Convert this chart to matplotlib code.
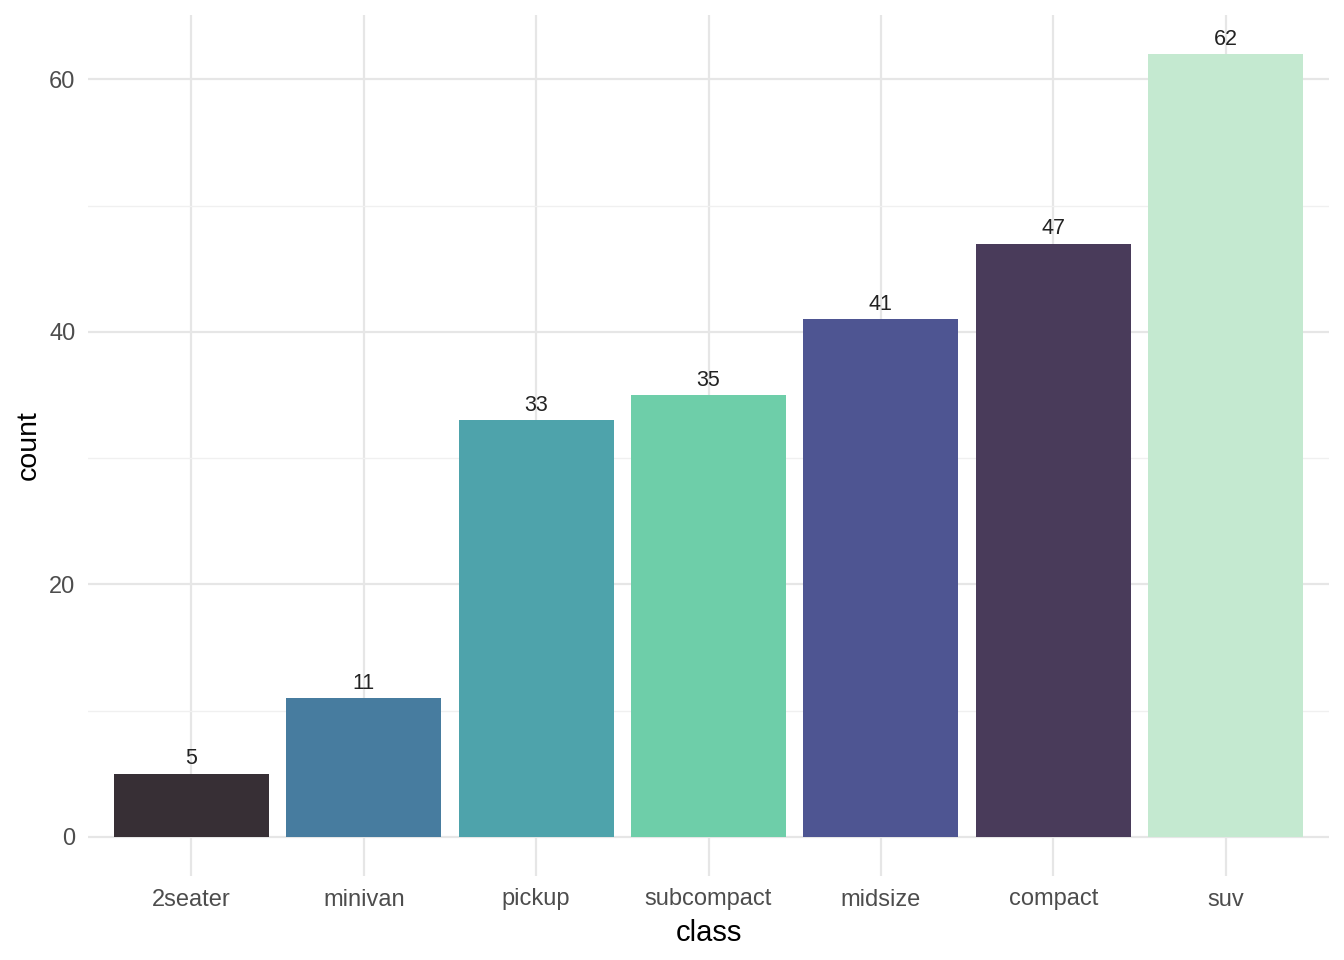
import matplotlib
matplotlib.use("Agg")
import matplotlib.pyplot as plt

plt.rcParams['font.family'] = ['Liberation Sans', 'DejaVu Sans']

classes = ["2seater", "minivan", "pickup", "subcompact", "midsize", "compact", "suv"]
counts = [5, 11, 33, 35, 41, 47, 62]
colors = ["#372f35", "#477c9f", "#4ea3ab", "#6ecea9", "#4e5592", "#493b5a", "#c4e9d0"]

fig = plt.figure(figsize=(13.44, 9.6), dpi=100)
ax = fig.add_axes([88 / 1344, 1 - 876 / 960, (1329 - 88) / 1344, (876 - 15) / 960])

x = list(range(len(classes)))
ax.bar(x, counts, width=0.9, color=colors, zorder=2)
for xi, c in zip(x, counts):
    ax.text(xi, c + 0.35, str(c), ha="center", va="bottom", fontsize=15.5, color="#222222")

ax.set_xlim(-0.6, len(classes) - 0.4)
ax.set_ylim(-3.1, 65.1)
ax.set_xticks(x)
ax.set_xticklabels(classes)
ax.set_yticks([0, 20, 40, 60])
ax.set_yticks([10, 30, 50], minor=True)

ax.grid(True, which="major", color="#e6e6e6", linewidth=1.6, zorder=0)
ax.grid(True, which="minor", axis="y", color="#f0f0f0", linewidth=1.0, zorder=0)
for s in ax.spines.values():
    s.set_visible(False)
ax.tick_params(which="both", length=0, labelsize=17, labelcolor="#4d4d4d", pad=9)
ax.set_xlabel("class", fontsize=21, labelpad=6)
ax.set_ylabel("count", fontsize=20.5, labelpad=5)

fig.savefig("out.png", dpi=100)
